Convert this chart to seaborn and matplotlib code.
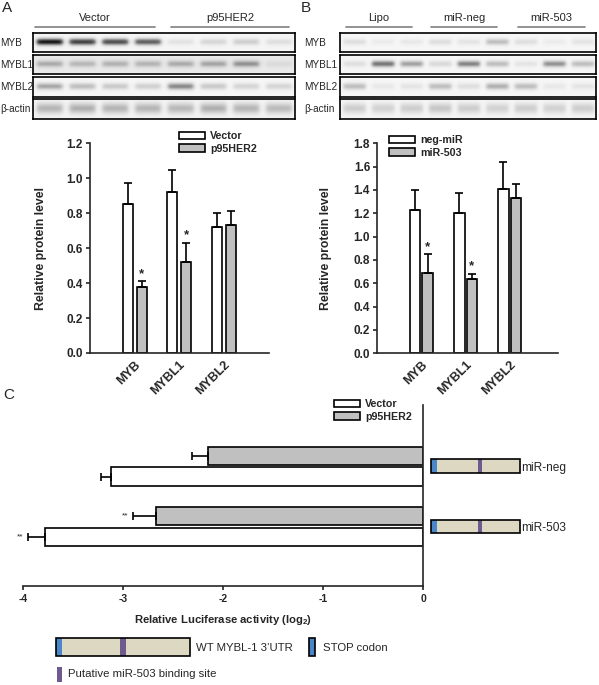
import numpy as np
import pandas as pd
import seaborn as sns
import matplotlib.pyplot as plt
from matplotlib.patches import Patch, Rectangle
from matplotlib import transforms

sns.set_style('ticks')
plt.rcParams['font.family'] = ['Liberation Sans', 'DejaVu Sans']
plt.rcParams['mathtext.fontset'] = 'custom'
plt.rcParams['mathtext.rm'] = 'Liberation Sans'
plt.rcParams['mathtext.bf'] = 'Liberation Sans:bold'

# ---- data ----
proteins = ['MYB', 'MYBL1', 'MYBL2']

# panel A
a_groups = ['Vector', 'p95HER2']
a_vector = [0.85, 0.92, 0.72]
a_vector_err = [0.12, 0.13, 0.08]
a_p95 = [0.38, 0.52, 0.73]
a_p95_err = [0.03, 0.11, 0.08]
a_sig = ['*', '*', '']

# panel B
b_groups = ['neg-miR', 'miR-503']
b_neg = [1.23, 1.20, 1.41]
b_neg_err = [0.17, 0.17, 0.23]
b_mir = [0.69, 0.64, 1.33]
b_mir_err = [0.16, 0.04, 0.12]
b_sig = ['*', '*', '']

# panel C (log2 luciferase)
constructs = ['miR-neg', 'miR-503']
c_groups = ['p95HER2', 'Vector']
c_p95 = [-2.15, -2.67]
c_p95_err = [0.16, 0.23]
c_vector = [-3.12, -3.78]
c_vector_err = [0.10, 0.17]
c_sig_p95 = ['', '**']
c_sig_vector = ['', '**']

# western blot band intensities (0 = none, 1 = black)
blot_rows = ['MYB', 'MYBL1', 'MYBL2', 'β-actin']
blotA = [
    [0.85, 0.72, 0.68, 0.62, 0.12, 0.18, 0.22, 0.14],
    [0.28, 0.24, 0.26, 0.25, 0.28, 0.30, 0.36, 0.08],
    [0.38, 0.30, 0.25, 0.22, 0.48, 0.25, 0.20, 0.20],
    [0.30, 0.32, 0.30, 0.30, 0.29, 0.32, 0.30, 0.28],
]
blotA_bg = [0.08, 0.16, 0.07, 0.10]
blotA_heads = ['Vector', 'p95HER2']
blotB = [
    [0.15, 0.08, 0.10, 0.15, 0.12, 0.30, 0.15, 0.08, 0.12],
    [0.15, 0.55, 0.40, 0.18, 0.50, 0.30, 0.12, 0.45, 0.30],
    [0.30, 0.10, 0.12, 0.30, 0.15, 0.35, 0.30, 0.10, 0.12],
    [0.22, 0.20, 0.22, 0.25, 0.22, 0.20, 0.22, 0.20, 0.22],
]
blotB_bg = [0.07, 0.07, 0.07, 0.08]
blotB_heads = ['Lipo', 'miR-neg', 'miR-503']

GRAY = '#c0c0c0'
BEIGE = '#ddd8c2'
BLUE = '#4a86c8'
PURPLE = '#6e5a8c'

W, H = 599, 685
fig = plt.figure(figsize=(W / 100, H / 100), dpi=100)


def box(x0, y0, x1, y1):
    return [x0 / W, 1 - y1 / H, (x1 - x0) / W, (y1 - y0) / H]


def fx(x):
    return x / W


def fy(y):
    return 1 - y / H


def strip_image(values, bg, thick):
    n = len(values)
    lane_w, h = 40, 30
    xs = np.arange(n * lane_w)
    ys = np.arange(h)
    img = np.full((h, n * lane_w), bg)
    yprof = np.exp(-((ys - h * 0.45) / (h * thick)) ** 2)
    for i, v in enumerate(values):
        c = (i + 0.5) * lane_w
        xprof = 1 / (1 + np.exp((np.abs(xs - c) - lane_w * 0.4) / 1.5))
        img = img + v * np.outer(yprof, xprof)
    return img


def draw_blot(x0, x1, data, bg, heads, head_spans, label_x):
    rows_y = [(33, 52), (55, 74), (77, 97), (99, 119)]
    for (y0, y1), vals, b, name in zip(rows_y, data, bg, blot_rows):
        ax = fig.add_axes(box(x0, y0, x1, y1))
        thick = 0.28 if name == 'β-actin' else 0.18
        ax.imshow(strip_image(vals, b, thick), cmap='Greys', vmin=0, vmax=1,
                  aspect='auto', interpolation='bilinear')
        ax.set_xticks([])
        ax.set_yticks([])
        for s in ax.spines.values():
            s.set_linewidth(1.2)
            s.set_color('black')
        fig.text(fx(label_x), fy((y0 + y1) / 2), name, fontsize=7.2,
                 ha='left', va='center')
    for text, (s0, s1) in zip(heads, head_spans):
        fig.add_artist(plt.Line2D([fx(s0), fx(s1)], [fy(27), fy(27)],
                                  color='#8a8a8a', lw=1.3))
        fig.text(fx((s0 + s1) / 2), fy(18), text, fontsize=8,
                 ha='center', va='center')


draw_blot(33, 295, blotA, blotA_bg, blotA_heads, [(35, 155), (171, 289)], 0)
draw_blot(340, 596, blotB, blotB_bg, blotB_heads,
          [(346, 412), (431, 497), (518, 585)], 304)


def bar_panel(ax, groups, v1, e1, v2, e2, sig, ylim, yticks, width, gap,
              xlim, legend_xy):
    df = pd.DataFrame({'protein': proteins * 2,
                       'group': [groups[0]] * 3 + [groups[1]] * 3,
                       'value': v1 + v2})
    sns.barplot(data=df, x='protein', y='value', hue='group', hue_order=groups,
                palette={groups[0]: 'white', groups[1]: GRAY}, width=width,
                gap=gap, edgecolor='black', linewidth=1.2, errorbar=None,
                legend=False, ax=ax)
    for cont, vals, errs, marks in zip(ax.containers, [v1, v2], [e1, e2],
                                       [[''] * 3, sig]):
        xs = [b.get_x() + b.get_width() / 2 for b in cont]
        ax.errorbar(xs, vals, yerr=[np.zeros(len(vals)), errs], fmt='none',
                    ecolor='black', elinewidth=1.2, capsize=3, capthick=1.2)
        for x, v, e, m in zip(xs, vals, errs, marks):
            if m:
                ax.annotate(m, (x, v + e), xytext=(0, 1),
                            textcoords='offset points', ha='center',
                            va='bottom', fontsize=9.5, fontweight='bold')
    ax.set_xlim(*xlim)
    ax.set_ylim(*ylim)
    ax.set_yticks(yticks, labels=[f'{t:.1f}' for t in yticks], fontsize=8.5,
                  fontweight='bold')
    ax.set_xticks(range(3), labels=proteins, rotation=45, ha='right',
                  rotation_mode='anchor', fontsize=9, fontweight='bold')
    ax.tick_params(axis='x', length=0, pad=4)
    ax.tick_params(axis='y', length=3, width=1.2, pad=2)
    ax.set_xlabel('')
    ax.set_ylabel('Relative protein level', fontsize=8.8, fontweight='bold')
    for s in ['left', 'bottom']:
        ax.spines[s].set_linewidth(1.2)
    sns.despine(ax=ax)
    handles = [Patch(facecolor='white', edgecolor='black', lw=1.2,
                     label=groups[0]),
               Patch(facecolor=GRAY, edgecolor='black', lw=1.2,
                     label=groups[1])]
    ax.legend(handles=handles, loc='upper left',
              bbox_to_anchor=(fx(legend_xy[0]), fy(legend_xy[1])),
              bbox_transform=fig.transFigure, frameon=False,
              prop={'size': 7.7, 'weight': 'bold'}, handlelength=2.4,
              handleheight=0.7, labelspacing=0.25, borderpad=0,
              borderaxespad=0, handletextpad=0.5)


axA = fig.add_axes(box(90, 143.3, 269, 353))
bar_panel(axA, a_groups, a_vector, a_vector_err, a_p95, a_p95_err, a_sig,
          (0, 1.2), np.arange(0, 1.21, 0.2), 0.64, 0.29, (-1.01, 3.02),
          (179, 131))
axA.yaxis.set_label_coords(-43 / 179, 0.5)

axB = fig.add_axes(box(377, 143.3, 558, 353.3))
bar_panel(axB, b_groups, b_neg, b_neg_err, b_mir, b_mir_err, b_sig,
          (0, 1.8), np.arange(0, 1.81, 0.2), 0.56, 0.16, (-1.01, 3.10),
          (389, 135))
axB.yaxis.set_label_coords(-45 / 181, 0.5)

# ---- panel C ----
axC = fig.add_axes(box(22.7, 405, 423.5, 586))
dfC = pd.DataFrame({'construct': constructs * 2,
                    'group': [c_groups[0]] * 2 + [c_groups[1]] * 2,
                    'value': c_p95 + c_vector})
sns.barplot(data=dfC, x='value', y='construct', hue='group',
            hue_order=c_groups, palette={'p95HER2': GRAY, 'Vector': 'white'},
            orient='h', width=0.69, gap=0.11, edgecolor='black',
            linewidth=1.2, errorbar=None, legend=False, ax=axC)
for cont, vals, errs, marks in zip(axC.containers, [c_p95, c_vector],
                                   [c_p95_err, c_vector_err],
                                   [c_sig_p95, c_sig_vector]):
    ys = [b.get_y() + b.get_height() / 2 for b in cont]
    axC.errorbar(vals, ys, xerr=[errs, np.zeros(len(vals))], fmt='none',
                 ecolor='black', elinewidth=1.2, capsize=3, capthick=1.2)
    for y, v, e, m in zip(ys, vals, errs, marks):
        if m:
            axC.annotate(m, (v - e, y), xytext=(-3, 0),
                         textcoords='offset points', ha='right', va='center',
                         fontsize=6)
axC.set_xlim(-4, 0)
axC.set_ylim(1.99, -1.02)
axC.set_xticks(range(-4, 1), labels=[str(t) for t in range(-4, 1)],
               fontsize=7.5, fontweight='bold')
axC.tick_params(axis='x', length=3, width=1.2, pad=3)
axC.yaxis.tick_right()
axC.tick_params(axis='y', length=0, pad=70, labelsize=8.6)
axC.set_ylabel('')
axC.set_xlabel(r'Relative Luciferase activity (log$_{\mathbf{2}}$)',
               fontsize=8.1, fontweight='bold', labelpad=6)
axC.spines['top'].set_visible(False)
axC.spines['left'].set_visible(False)
axC.spines['right'].set_linewidth(1.2)
axC.spines['bottom'].set_linewidth(1.2)
axC.legend(handles=[Patch(facecolor='white', edgecolor='black', lw=1.2,
                          label='Vector'),
                    Patch(facecolor=GRAY, edgecolor='black', lw=1.2,
                          label='p95HER2')],
           loc='upper left', bbox_to_anchor=(fx(334), fy(399)),
           bbox_transform=fig.transFigure, frameon=False,
           prop={'size': 7.7, 'weight': 'bold'}, handlelength=2.4,
           handleheight=0.7, labelspacing=0.25, borderpad=0,
           borderaxespad=0, handletextpad=0.5)

# construct diagrams next to each group
blend = transforms.blended_transform_factory(fig.transFigure, axC.transData)
for i in range(len(constructs)):
    y0 = i - 0.115
    hgt = 0.23
    for x0, x1, col in [(431, 520, BEIGE), (431, 437, BLUE), (478, 482, PURPLE)]:
        axC.add_patch(Rectangle((fx(x0), y0), (x1 - x0) / W, hgt,
                                facecolor=col, lw=0,
                                transform=blend, clip_on=False))
    axC.add_patch(Rectangle((fx(431), y0), (520 - 431) / W, hgt,
                            facecolor='none', edgecolor='black', lw=1.2,
                            transform=blend, clip_on=False))

# key below panel C
key = [(56, 638, 190, 656, BEIGE, 0), (56, 638, 62, 656, BLUE, 0),
       (120, 638, 126, 656, PURPLE, 0), (56, 638, 190, 656, 'none', 1.2),
       (309, 638, 315, 656, BLUE, 1.2), (57, 667, 62, 682, PURPLE, 0)]
for x0, y0, x1, y1, col, lw in key:
    fig.add_artist(Rectangle((fx(x0), fy(y1)), (x1 - x0) / W, (y1 - y0) / H,
                             facecolor=col, edgecolor='black', lw=lw,
                             transform=fig.transFigure))
fig.text(fx(196), fy(648), 'WT MYBL-1 3’UTR', fontsize=8.2, va='center')
fig.text(fx(323), fy(648), 'STOP codon', fontsize=8.2, va='center')
fig.text(fx(68), fy(674), 'Putative miR-503 binding site', fontsize=8.2,
         va='center')

# panel letters
fig.text(fx(2), fy(1), 'A', fontsize=11, va='top')
fig.text(fx(301), fy(1), 'B', fontsize=11, va='top')
fig.text(fx(3), fy(388), 'C', fontsize=11, va='top')

fig.savefig('out.png', dpi=100)
